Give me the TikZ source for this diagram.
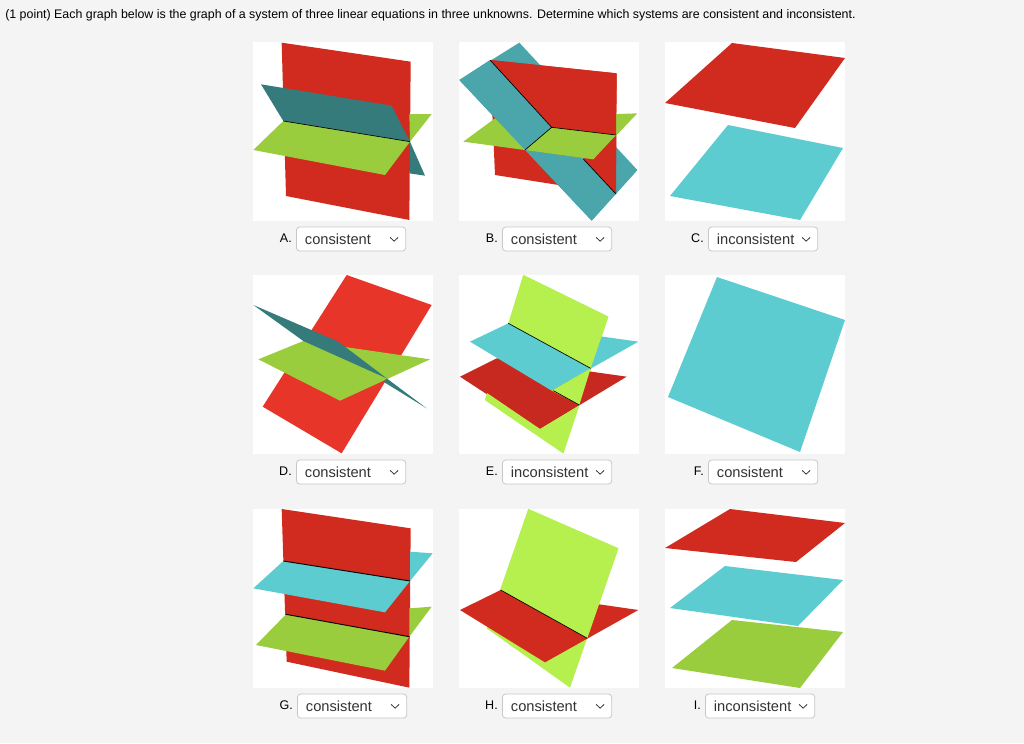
\documentclass[tikz,border=0pt]{standalone}
\usepackage{fontspec}
\setmainfont{Liberation Sans}
\definecolor{bg}{HTML}{F4F4F4}
\definecolor{redA}{HTML}{D12A1E}
\definecolor{redD}{HTML}{E8352A}
\definecolor{redE}{HTML}{C7281F}
\definecolor{tealA}{HTML}{357B7B}
\definecolor{tealB}{HTML}{4AA6AA}
\definecolor{grn}{HTML}{9ACD3D}
\definecolor{lime}{HTML}{B5F04F}
\definecolor{cyan}{HTML}{5CCCD0}
\definecolor{txt}{HTML}{333333}
\tikzset{
 panel/.style={fill=white,draw=none},
 sel/.style={draw=black!22,fill=white,rounded corners=2.5pt,line width=0.6pt},
 seltext/.style={font=\fontsize{11}{13}\selectfont,text=txt,anchor=west,inner sep=0},
 lab/.style={font=\fontsize{9.4}{11}\selectfont,anchor=east,inner sep=0},
 iline/.style={line width=0.5pt,black},
 z/.style={shift={(#1)},scale=1/3}
}
\newcommand{\dropdown}[4]{% x0, y, text, name
 \node[sel,minimum width=82pt,minimum height=18pt,anchor=west] (#4) at (#1,#2) {};
 \node[seltext] at ([xshift=6.5pt]#4.west) {#3};
 \draw[txt,line width=0.6pt] ([xshift=-12pt,yshift=1.2pt]#4.east) -- ([xshift=-9pt,yshift=-1.6pt]#4.east) -- ([xshift=-6pt,yshift=1.2pt]#4.east);
}
\begin{document}
\begin{tikzpicture}[x=0.75pt,y=-0.75pt]
\fill[bg] (0,0) rectangle (1024,743);
\useasboundingbox (0,0) rectangle (1024,743);
\node[anchor=west,inner sep=0,font=\fontsize{9.3}{11}\selectfont] (hdr) at (5,15) {(1 point) Each graph below is the graph of a system of three linear equations in three unknowns. Determine which systems are consistent and inconsistent.};
\foreach \x in {253,459,665}{\foreach \y in {42,275,509}{\fill[panel] (\x,\y) rectangle ++(180,179);}}
% A
\begin{scope}[z={250,40}]
\fill[tealA] (480,305) -- (525,407) -- (478,400) -- cycle;
\fill[redA] (95,8) -- (482,65) -- (478,540) -- (108,468) -- cycle;
\fill[grn] (478,222) -- (545,222) -- (480,305) -- cycle;
\fill[tealA] (33,133) -- (425,197) -- (480,305) -- (100,243) -- cycle;
\fill[grn] (10,330) -- (100,243) -- (480,305) -- (405,405) -- cycle;
\draw[iline] (100,243) -- (480,305);
\end{scope}
% B
\begin{scope}[z={250,40}]
\fill[tealB] (628,120) -- (808,8) -- (1162,390) -- (1025,542) -- cycle;
\fill[redA] (720,60) -- (1100,100) -- (1098,462) -- (735,405) -- cycle;
\fill[grn] (640,305) -- (735,235) -- (1162,220) -- (1030,358) -- cycle;
\fill[redA] (720,60) -- (1100,100) -- (1098,285) -- (905,262) -- cycle;
\fill[tealB] (628,120) -- (720,60) -- (905,262) -- (825,330) -- cycle;
\fill[tealB] (825,330) -- (1030,358) -- (1162,390) -- (1025,542) -- cycle;
\fill[redA] (1000,357) -- (1098,288) -- (1098,462) -- cycle;
\fill[grn] (825,330) -- (905,262) -- (1098,285) -- (1030,358) -- cycle;
\draw[iline] (720,60) -- (905,262) -- (825,330);
\draw[iline] (905,262) -- (1098,285);
\draw[iline] (1000,357) -- (1098,462);
\end{scope}
% C
\fill[redA] (665,103) -- (732,43) -- (845,58) -- (795,128) -- cycle;
\fill[cyan] (670,196) -- (728,125) -- (843,148) -- (800,220) -- cycle;
% D
\begin{scope}[z={250,270}]
\fill[redD] (290,15) -- (545,105) -- (275,550) -- (38,410) -- cycle;
\fill[grn] (25,268) -- (160,213) -- (540,268) -- (270,392) -- cycle;
\fill[tealA] (10,105) -- (265,215) -- (410,325) -- (160,213) -- cycle;
\fill[tealA] (410,325) -- (530,415) -- (400,335) -- cycle;
\end{scope}
% E
\begin{scope}[z={250,270}]
\fill[lime] (820,15) -- (1075,140) -- (940,550) -- (705,390) -- cycle;
\fill[redE] (630,320) -- (740,265) -- (1130,320) -- (870,477) -- cycle;
\fill[cyan] (660,215) -- (775,160) -- (1165,215) -- (905,362) -- cycle;
\fill[lime] (775,160) -- (820,15) -- (1075,140) -- (1022,295) -- cycle;
\fill[lime] (905,362) -- (1022,295) -- (988,405) -- cycle;
\fill[lime] (711,369) -- (870,477) -- (988,406) -- (940,550) -- (705,390) -- cycle;
\draw[iline] (775,160) -- (1022,295);
\draw[iline] (910,362) -- (988,405);
\end{scope}
% F
\fill[cyan] (668,397) -- (717,277) -- (845,320) -- (800,452) -- cycle;
% G
\begin{scope}[z={250,505}]
\fill[redA] (95,12) -- (482,70) -- (478,548) -- (110,470) -- cycle;
\fill[cyan] (480,140) -- (548,145) -- (480,228) -- cycle;
\fill[cyan] (10,250) -- (100,168) -- (480,228) -- (405,322) -- cycle;
\fill[grn] (478,310) -- (545,305) -- (478,395) -- cycle;
\fill[grn] (18,420) -- (108,328) -- (478,395) -- (405,497) -- cycle;
\draw[iline,line width=0.7pt] (100,168) -- (480,228);
\draw[iline,line width=0.7pt] (108,328) -- (478,395);
\end{scope}
% H
\begin{scope}[z={250,505}]
\fill[lime] (835,12) -- (1105,130) -- (960,548) -- (710,370) -- cycle;
\fill[redA] (630,315) -- (752,255) -- (1165,315) -- (885,472) -- cycle;
\fill[lime] (752,255) -- (835,12) -- (1105,130) -- (1012,400) -- cycle;
\draw[iline] (752,255) -- (1012,400);
\end{scope}
% I
\fill[redA] (665,548) -- (730,509) -- (845,523) -- (796,562) -- cycle;
\fill[cyan] (670,608) -- (725,566) -- (843,580) -- (798,626) -- cycle;
\fill[grn] (672,668) -- (732,620) -- (843,632) -- (800,688) -- cycle;
% dropdowns
\node[lab] at (292,238) {A.}; \dropdown{296}{239}{consistent}{sA}
\node[lab] at (498,238) {B.}; \dropdown{502}{239}{consistent}{sB}
\node[lab] at (704,238) {C.}; \dropdown{708}{239}{inconsistent}{sC}
\node[lab] at (292,471) {D.}; \dropdown{296}{472}{consistent}{sD}
\node[lab] at (498,471) {E.}; \dropdown{502}{472}{inconsistent}{sE}
\node[lab] at (704,471) {F.}; \dropdown{708}{472}{consistent}{sF}
\node[lab] at (293,705) {G.}; \dropdown{297}{706}{consistent}{sG}
\node[lab] at (498,705) {H.}; \dropdown{502}{706}{consistent}{sH}
\node[lab] at (701,705) {I.}; \dropdown{705}{706}{inconsistent}{sI}
\end{tikzpicture}
\end{document}
